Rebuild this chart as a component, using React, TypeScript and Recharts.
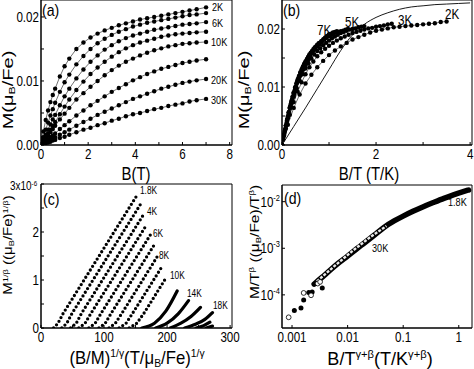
import React from 'react';
import { ComposedChart, Line, Scatter, XAxis, YAxis, ReferenceArea } from 'recharts';

const SANS = '"Liberation Sans", Arial, sans-serif';
const NARROW_SCALE = 0.83;

// ---- (a) M vs B, isotherms ----
const fieldA = [0, 0.05, 0.1, 0.2, 0.3, 0.4, 0.5, 0.6, 0.8, 1.0, 1.2, 1.5, 1.8, 2.1, 2.4, 2.7, 3.0, 3.3, 3.6, 3.9, 4.2, 4.5, 4.8, 5.1, 5.4, 5.7, 6.0, 6.3, 6.6, 7.0];
const mA2K = [0, 0.0011, 0.0021, 0.0039, 0.0054, 0.0067, 0.0078, 0.0088, 0.0107, 0.0123, 0.0135, 0.0150, 0.0160, 0.0168, 0.0174, 0.0179, 0.0183, 0.0187, 0.0190, 0.0193, 0.0196, 0.0198, 0.0200, 0.0202, 0.0204, 0.0206, 0.0208, 0.0210, 0.0212, 0.0215];
const mA4K = [0, 0.0006, 0.0012, 0.0024, 0.0035, 0.0046, 0.0056, 0.0066, 0.0083, 0.0098, 0.0110, 0.0126, 0.0139, 0.0150, 0.0159, 0.0166, 0.0172, 0.0177, 0.0181, 0.0185, 0.0188, 0.0191, 0.0193, 0.0195, 0.0197, 0.0199, 0.0201, 0.0203, 0.0204, 0.0206];
const mA6K = [0, 0.0004, 0.0008, 0.0016, 0.0024, 0.0032, 0.0040, 0.0047, 0.0062, 0.0076, 0.0088, 0.0104, 0.0118, 0.0130, 0.0140, 0.0149, 0.0156, 0.0162, 0.0167, 0.0171, 0.0174, 0.0177, 0.0180, 0.0182, 0.0184, 0.0186, 0.0188, 0.0189, 0.0190, 0.0192];
const mA8K = [0, 0.0003, 0.0006, 0.0012, 0.0018, 0.0024, 0.0030, 0.0036, 0.0048, 0.0060, 0.0071, 0.0086, 0.0099, 0.0111, 0.0121, 0.0130, 0.0138, 0.0145, 0.0151, 0.0156, 0.0160, 0.0163, 0.0166, 0.0169, 0.0171, 0.0173, 0.0174, 0.0175, 0.0176, 0.0177];
const mA10K = [0, 0.00025, 0.0005, 0.0010, 0.0015, 0.0020, 0.0025, 0.0030, 0.0040, 0.0049, 0.0058, 0.0071, 0.0081, 0.0091, 0.0100, 0.0109, 0.0117, 0.0124, 0.0130, 0.0135, 0.0140, 0.0144, 0.0148, 0.0151, 0.0154, 0.0156, 0.0158, 0.0159, 0.0160, 0.0161];
const mA15K = [0, 0.00015, 0.0003, 0.0006, 0.0009, 0.0012, 0.0015, 0.0018, 0.0025, 0.0031, 0.0037, 0.0046, 0.0054, 0.0062, 0.0069, 0.0076, 0.0083, 0.0089, 0.0095, 0.0101, 0.0106, 0.0111, 0.0115, 0.0119, 0.0122, 0.0125, 0.0128, 0.0130, 0.0132, 0.0134];
const mA20K = [0, 0.0001, 0.0002, 0.0004, 0.0006, 0.0008, 0.0010, 0.0012, 0.0016, 0.0020, 0.0024, 0.0030, 0.0036, 0.0041, 0.0047, 0.0052, 0.0057, 0.0062, 0.0067, 0.0072, 0.0076, 0.0080, 0.0084, 0.0088, 0.0091, 0.0094, 0.0097, 0.0099, 0.0101, 0.0103];
const mA30K = [0, 0.00005, 0.0001, 0.0003, 0.0004, 0.0005, 0.0007, 0.0008, 0.0011, 0.0013, 0.0016, 0.0020, 0.0024, 0.0027, 0.0031, 0.0034, 0.0038, 0.0041, 0.0045, 0.0048, 0.0050, 0.0053, 0.0056, 0.0058, 0.0061, 0.0063, 0.0065, 0.0068, 0.0070, 0.0072];

// ---- (b) M vs B/T ----
const fieldB = [0, 0.25, 0.5, 0.75, 1, 1.25, 1.5, 1.75, 2, 2.25, 2.5, 2.75, 3, 3.25, 3.5, 3.75, 4, 4.25, 4.5, 4.75, 5, 5.25, 5.5, 5.75, 6, 6.25, 6.5, 6.75, 7];
const tempsB = [2, 3, 4, 5, 6, 7, 9, 12];
const mB2K = [0, 0.0035, 0.0064, 0.0087, 0.0106, 0.0121, 0.0134, 0.0145, 0.0155, 0.0163, 0.0170, 0.0176, 0.0182, 0.0186, 0.0190, 0.0194, 0.0197, 0.0199, 0.0201, 0.0203, 0.0204, 0.0205, 0.0206, 0.0207, 0.0208, 0.0209, 0.0210, 0.0212, 0.0213];
const mB3K = [0, 0.0028, 0.0052, 0.0074, 0.0092, 0.0108, 0.0122, 0.0134, 0.0144, 0.0153, 0.0160, 0.0166, 0.0171, 0.0176, 0.0180, 0.0184, 0.0187, 0.0190, 0.0193, 0.0195, 0.0197, 0.0199, 0.0201, 0.0202, 0.0204, 0.0205, 0.0206, 0.0208, 0.0209];
const mB4K = [0, 0.0024, 0.0046, 0.0066, 0.0083, 0.0098, 0.0111, 0.0122, 0.0132, 0.0141, 0.0149, 0.0156, 0.0162, 0.0167, 0.0172, 0.0176, 0.0180, 0.0184, 0.0187, 0.0190, 0.0193, 0.0195, 0.0197, 0.0199, 0.0200, 0.0201, 0.0203, 0.0204, 0.0205];
const mB5K = [0, 0.0020, 0.0039, 0.0056, 0.0072, 0.0086, 0.0099, 0.0111, 0.0121, 0.0130, 0.0138, 0.0146, 0.0153, 0.0159, 0.0165, 0.0170, 0.0174, 0.0178, 0.0182, 0.0185, 0.0188, 0.0190, 0.0192, 0.0194, 0.0195, 0.0196, 0.0197, 0.0199, 0.0200];
const mB6K = [0, 0.0017, 0.0033, 0.0049, 0.0063, 0.0076, 0.0088, 0.0099, 0.0109, 0.0118, 0.0126, 0.0134, 0.0141, 0.0147, 0.0153, 0.0158, 0.0163, 0.0168, 0.0172, 0.0176, 0.0179, 0.0182, 0.0185, 0.0188, 0.0190, 0.0192, 0.0194, 0.0195, 0.0196];
const mB7K = [0, 0.0015, 0.0029, 0.0043, 0.0056, 0.0068, 0.0079, 0.0090, 0.0100, 0.0109, 0.0117, 0.0125, 0.0132, 0.0138, 0.0143, 0.0148, 0.0153, 0.0157, 0.0161, 0.0165, 0.0168, 0.0171, 0.0174, 0.0177, 0.0180, 0.0183, 0.0186, 0.0188, 0.0191];
const mB9K = [0, 0.0012, 0.0023, 0.0034, 0.0045, 0.0055, 0.0065, 0.0074, 0.0083, 0.0091, 0.0099, 0.0106, 0.0113, 0.0119, 0.0125, 0.0130, 0.0135, 0.0140, 0.0144, 0.0148, 0.0152, 0.0156, 0.0159, 0.0162, 0.0165, 0.0168, 0.0170, 0.0173, 0.0175];
const mB12K = [0, 0.0009, 0.0018, 0.0026, 0.0034, 0.0042, 0.0050, 0.0057, 0.0064, 0.0071, 0.0077, 0.0083, 0.0089, 0.0095, 0.0101, 0.0106, 0.0111, 0.0116, 0.0120, 0.0124, 0.0128, 0.0132, 0.0136, 0.0139, 0.0142, 0.0145, 0.0149, 0.0152, 0.0155];
// Brillouin curve
const brillX = [0, 0.25, 0.5, 0.75, 1.0, 1.25, 1.5, 1.75, 2.0, 2.25, 2.5, 2.75, 3.0, 3.25, 3.5, 3.75, 4.0];
const brillM = [0, 0.0032, 0.0064, 0.0097, 0.0130, 0.0163, 0.0190, 0.0208, 0.0220, 0.0228, 0.0234, 0.0238, 0.0240, 0.0242, 0.0243, 0.0244, 0.0245];

// ---- (c) Arrott-Noakes plot, [x, M^(1/beta) in 1e-6] ----
const arrott1 = [[20, 0], [27, 0.1], [35, 0.3], [153, 2.78]];
const arrott2 = [[33, 0], [41, 0.1], [49, 0.3], [158, 2.58]];
const arrott3 = [[47, 0], [56, 0.1], [64, 0.3], [163, 2.37]];
const arrott4 = [[60, 0], [70, 0.1], [79, 0.3], [168, 2.16]];
const arrott5 = [[76, 0], [86, 0.1], [95, 0.3], [174, 1.95]];
const arrott6 = [[92, 0], [102, 0.1], [111, 0.3], [179, 1.72]];
const arrott7 = [[108, 0], [118, 0.1], [128, 0.3], [185, 1.5]];
const arrott8 = [[124, 0], [135, 0.1], [145, 0.3], [192, 1.28]];
const arrott9 = [[140, 0], [152, 0.1], [163, 0.3], [199, 1.06]];
const arrott10 = [[160, 0], [180, 0.1], [198, 0.35], [216, 0.77]];
const arrott11 = [[182, 0], [200, 0.1], [218, 0.3], [234, 0.57]];
const arrott12 = [[205, 0], [222, 0.1], [238, 0.24], [253, 0.43]];
const arrott13 = [[228, 0], [245, 0.08], [260, 0.18], [272, 0.32]];
const arrott14 = [[246, 0], [258, 0.05], [268, 0.12]];
const arrott15 = [[262, 0], [272, 0.04]];

// ---- (d) scaling plot ----
const bandX = [0.0025, 0.0035, 0.005, 0.007, 0.01, 0.015, 0.02, 0.03, 0.045, 0.07, 0.1, 0.15, 0.23, 0.35, 0.54, 0.8, 1.2, 1.5];
const bandY = [1.7e-4, 2.4e-4, 3.5e-4, 4.9e-4, 6.8e-4, 1.0e-3, 1.3e-3, 1.9e-3, 2.8e-3, 3.9e-3, 4.9e-3, 6.2e-3, 7.8e-3, 9.6e-3, 1.18e-2, 1.4e-2, 1.64e-2, 1.78e-2];
const openBandX = [0.0028, 0.006, 0.012, 0.025, 0.05];
const openBandY = [1.95e-4, 4.3e-4, 8.6e-4, 1.7e-3, 3.0e-3];
const filledPts = [[0.0011, 4.6e-5], [0.00145, 5.2e-5], [0.00162, 7.8e-5], [0.002, 1.12e-4], [0.0023, 1.15e-4], [0.0035, 1.4e-4]];
const openPts = [[0.00087, 3.3e-5], [0.00162, 1.1e-4], [0.0022, 9.8e-5], [0.0029, 1.75e-4], [0.0032, 1.9e-4]];

const toRows = (xs: number[], ys: number[]) => xs.map((x, i) => ({ x, y: ys[i] }));
const pairRows = (pts: number[][]) => pts.map(([x, y]) => ({ x, y }));

// tick label squeezed horizontally, the figure is stretched vertically
const NarrowTick = (props: any) => {
  const { x, y, payload, textAnchor, tickFormatter, index, orientation } = props;
  const label = tickFormatter ? tickFormatter(payload.value, index) : String(payload.value);
  if (!label) return null;
  const dy = orientation === 'bottom' ? '0.75em' : '0.36em';
  return (
    <text transform={`translate(${x},${y}) scale(${NARROW_SCALE},1)`} textAnchor={textAnchor} dy={dy}
      fontSize={14} fontFamily={SANS} fill="#000">{label}</text>
  );
};

const PowTick = (props: any) => {
  const { x, y, payload } = props;
  const exp = Math.round(Math.log10(payload.value));
  return (
    <text transform={`translate(${x},${y}) scale(${NARROW_SCALE},1)`} dy="0.36em" textAnchor="end"
      fontSize={14} fontFamily={SANS} fill="#000">
      10<tspan dy={-6} fontSize={9}>{exp}</tspan>
    </text>
  );
};

const axisCommon = {
  type: 'number' as const,
  allowDataOverflow: true,
  tickSize: -3,
  interval: 0 as const,
  axisLine: { stroke: '#000' },
  tickLine: { stroke: '#000' },
  tick: (p: any) => <NarrowTick {...p} />,
};

const fmtM = (v: number) => ([0, 0.01, 0.02].includes(v) ? v.toFixed(2) : '');

function PanelA() {
  const curves = [mA2K, mA4K, mA6K, mA8K, mA10K, mA15K, mA20K, mA30K].map((m) => toRows(fieldA, m));
  return (
    <ComposedChart width={237} height={185} margin={{ top: 0, right: 5, bottom: 0, left: 0 }}>
      <XAxis {...axisCommon} dataKey="x" domain={[0, 8.1]} ticks={[0, 1, 2, 3, 4, 5, 6, 7, 8]}
        tickFormatter={(v: number) => (v % 2 === 0 ? String(v) : '')} height={40} tickMargin={6} />
      <YAxis {...axisCommon} dataKey="y" domain={[0, 0.02265]} ticks={[0, 0.005, 0.01, 0.015, 0.02]}
        tickFormatter={fmtM} width={41} tickMargin={5} />
      <ReferenceArea x1={0} x2={8.1} y1={0} y2={0.02265} fill="none" stroke="#000" ifOverflow="visible" />
      {curves.map((rows, k) => (
        <Line key={k} data={rows} dataKey="y" type="linear" stroke="#333" strokeWidth={0.7}
          dot={{ r: 2.2, fill: '#000', stroke: 'none' }} isAnimationActive={false} />
      ))}
    </ComposedChart>
  );
}

function PanelB() {
  const curves = [mB2K, mB3K, mB4K, mB5K, mB6K, mB7K, mB9K, mB12K].map((m, k) =>
    fieldB.map((b, i) => ({ x: b / tempsB[k], y: m[i] })));
  return (
    <ComposedChart width={237} height={185} margin={{ top: 0, right: 2, bottom: 0, left: 0 }}>
      <XAxis {...axisCommon} dataKey="x" domain={[0, 4.04]} ticks={[0, 1, 2, 3, 4]}
        tickFormatter={(v: number) => (v % 2 === 0 ? String(v) : '')} height={40} tickMargin={6} />
      <YAxis {...axisCommon} dataKey="y" domain={[0, 0.025]} ticks={[0, 0.005, 0.01, 0.015, 0.02]}
        tickFormatter={fmtM} width={45} tickMargin={5} />
      <ReferenceArea x1={0} x2={4.04} y1={0} y2={0.025} fill="none" stroke="#000" ifOverflow="visible" />
      <Line data={toRows(brillX, brillM)} dataKey="y" type="monotone" stroke="#000" strokeWidth={0.9}
        dot={false} isAnimationActive={false} />
      {curves.map((rows, k) => (
        <Line key={k} data={rows} dataKey="y" type="linear" stroke="#333" strokeWidth={0.7}
          dot={{ r: 2.2, fill: '#000', stroke: 'none' }} isAnimationActive={false} />
      ))}
    </ComposedChart>
  );
}

function PanelC() {
  const dotted = [arrott1, arrott2, arrott3, arrott4, arrott5, arrott6, arrott7, arrott8, arrott9];
  const dense = [arrott10, arrott11, arrott12, arrott13, arrott14, arrott15];
  return (
    <ComposedChart width={245} height={189} margin={{ top: 4, right: 13, bottom: 0, left: 0 }}>
      <XAxis {...axisCommon} dataKey="x" domain={[0, 303]} ticks={[0, 50, 100, 150, 200, 250, 300]}
        tickFormatter={(v: number) => (v % 100 === 0 ? String(v) : '')} height={41} tickMargin={6} />
      <YAxis {...axisCommon} dataKey="y" domain={[0, 3]} ticks={[0, 0.5, 1, 1.5, 2, 2.5, 3]}
        tickFormatter={(v: number) => ([0, 1, 2].includes(v) ? String(v) : '')} width={41} tickMargin={5} />
      <ReferenceArea x1={0} x2={303} y1={0} y2={3} fill="none" stroke="#000" ifOverflow="visible" />
      {dotted.map((pts, k) => (
        <Line key={'d' + k} data={pairRows(pts)} dataKey="y" type="linear" stroke="#000" strokeWidth={3.3}
          strokeDasharray="0 4.3" strokeLinecap="round" dot={false} isAnimationActive={false} />
      ))}
      {dense.map((pts, k) => (
        <Line key={'s' + k} data={pairRows(pts)} dataKey="y" type="monotone" stroke="#000" strokeWidth={3.2}
          strokeLinecap="round" dot={false} isAnimationActive={false} />
      ))}
    </ComposedChart>
  );
}

function PanelD() {
  const xd: [number, number] = [6.6e-4, 1.73];
  const yd: [number, number] = [1.945e-5, 0.0228];
  return (
    <ComposedChart width={237} height={189} margin={{ top: 5, right: 2, bottom: 0, left: 0 }}>
      <XAxis {...axisCommon} dataKey="x" scale="log" domain={xd} ticks={[0.001, 0.01, 0.1, 1]}
        tickFormatter={(v: number) => String(v)} height={41} tickMargin={6} />
      <YAxis {...axisCommon} dataKey="y" scale="log" domain={yd} ticks={[1e-4, 1e-3, 1e-2]}
        tick={(p: any) => <PowTick {...p} />} width={45} tickMargin={5} />
      <ReferenceArea x1={xd[0]} x2={xd[1]} y1={yd[0]} y2={yd[1]} fill="none" stroke="#000" ifOverflow="visible" />
      <Line data={toRows(bandX, bandY)} dataKey="y" type="monotone" stroke="#000" strokeWidth={5.5}
        strokeLinecap="round" dot={false} isAnimationActive={false} />
      <Line data={toRows(openBandX, openBandY)} dataKey="y" type="linear" stroke="#e8e8e8" strokeWidth={2.4}
        strokeDasharray="3 1.4" dot={false} isAnimationActive={false} />
      <Scatter data={pairRows(filledPts)} isAnimationActive={false}
        shape={(p: any) => <circle cx={p.cx} cy={p.cy} r={2.5} fill="#000" />} />
      <Scatter data={pairRows(openPts)} isAnimationActive={false}
        shape={(p: any) => <circle cx={p.cx} cy={p.cy} r={2.4} fill="#fff" stroke="#000" strokeWidth={0.8} />} />
    </ComposedChart>
  );
}

const Sub = ({ children }: { children: React.ReactNode }) => (
  <span style={{ fontSize: '0.62em', verticalAlign: '-0.3em' }}>{children}</span>
);
const Sup = ({ children }: { children: React.ReactNode }) => (
  <span style={{ fontSize: '0.62em', verticalAlign: '0.6em' }}>{children}</span>
);

function Txt({ x, y, size, mode = 'left', squeeze = NARROW_SCALE, children }: {
  x: number; y: number; size: number; mode?: 'left' | 'center' | 'rot'; squeeze?: number; children: React.ReactNode;
}) {
  let transform = '';
  let origin = '50% 50%';
  if (mode === 'rot') transform = `translate(-50%,-50%) rotate(-90deg) scale(1,${squeeze})`;
  else if (mode === 'center') transform = `translate(-50%,-50%) scale(${squeeze},1)`;
  else { transform = `translate(0,-50%) scale(${squeeze},1)`; origin = '0 50%'; }
  return (
    <div style={{ position: 'absolute', left: x, top: y, fontSize: size, fontFamily: SANS, lineHeight: 1,
      whiteSpace: 'nowrap', transform, transformOrigin: origin, color: '#000' }}>{children}</div>
  );
}

export default function App() {
  return (
    <div style={{ position: 'absolute', left: 0, top: 0, width: 474, height: 369, background: '#fff', overflow: 'hidden' }}>
      <div style={{ position: 'absolute', left: 0, top: 0 }}><PanelA /></div>
      <div style={{ position: 'absolute', left: 237, top: 0 }}><PanelB /></div>
      <div style={{ position: 'absolute', left: 0, top: 180 }}><PanelC /></div>
      <div style={{ position: 'absolute', left: 237, top: 180 }}><PanelD /></div>

      {/* panel letters */}
      <Txt x={42} y={10} size={17}>(a)</Txt>
      <Txt x={283} y={10} size={17}>(b)</Txt>
      <Txt x={43} y={199} size={17}>(c)</Txt>
      <Txt x={284} y={198} size={17}>(d)</Txt>

      {/* axis titles */}
      <Txt x={9} y={90} size={20} mode="rot" squeeze={0.7}>M(μ<Sub>B</Sub>/Fe)</Txt>
      <Txt x={136} y={174} size={18} mode="center">B(T)</Txt>
      <Txt x={245} y={90} size={20} mode="rot" squeeze={0.7}>M(μ<Sub>B</Sub>/Fe)</Txt>
      <Txt x={369} y={174} size={18} mode="center">B/T (T/K)</Txt>
      <Txt x={9} y={245} size={15} mode="rot" squeeze={0.8}>M<Sup>1/β</Sup> ((μ<Sub>B</Sub>/Fe)<Sup>1/β</Sup>)</Txt>
      <Txt x={137} y={358} size={19} mode="center" squeeze={0.88}>(B/M)<Sup>1/γ</Sup>(T/μ<Sub>B</Sub>/Fe)<Sup>1/γ</Sup></Txt>
      <Txt x={255} y={242} size={15.5} mode="rot" squeeze={0.8}>M/T<Sup>β</Sup> ((μ<Sub>B</Sub>/Fe)/T<Sup>β</Sup>)</Txt>
      <Txt x={380} y={358} size={19} mode="center" squeeze={0.95}>B/T<Sup>γ+β</Sup>(T/K<Sup>γ+β</Sup>)</Txt>
      <Txt x={10} y={186} size={12}>3x10<Sup>-6</Sup></Txt>

      {/* temperature labels */}
      <Txt x={212} y={7} size={11}>2K</Txt>
      <Txt x={212} y={23} size={11}>6K</Txt>
      <Txt x={211} y={42} size={11}>10K</Txt>
      <Txt x={211} y={80} size={11}>20K</Txt>
      <Txt x={211} y={100} size={11}>30K</Txt>

      <Txt x={317} y={30} size={14}>7K</Txt>
      <Txt x={345} y={22} size={14}>5K</Txt>
      <Txt x={398} y={20} size={14}>3K</Txt>
      <Txt x={445} y={14} size={14}>2K</Txt>

      <Txt x={140} y={191} size={10}>1.8K</Txt>
      <Txt x={147} y={212} size={10}>4K</Txt>
      <Txt x={153} y={234} size={10}>6K</Txt>
      <Txt x={159} y={256} size={10}>8K</Txt>
      <Txt x={170} y={276} size={10}>10K</Txt>
      <Txt x={187} y={294} size={10}>14K</Txt>
      <Txt x={213} y={306} size={10}>18K</Txt>

      <Txt x={448} y={202} size={11}>1.8K</Txt>
      <Txt x={372} y={248} size={11}>30K</Txt>
    </div>
  );
}
